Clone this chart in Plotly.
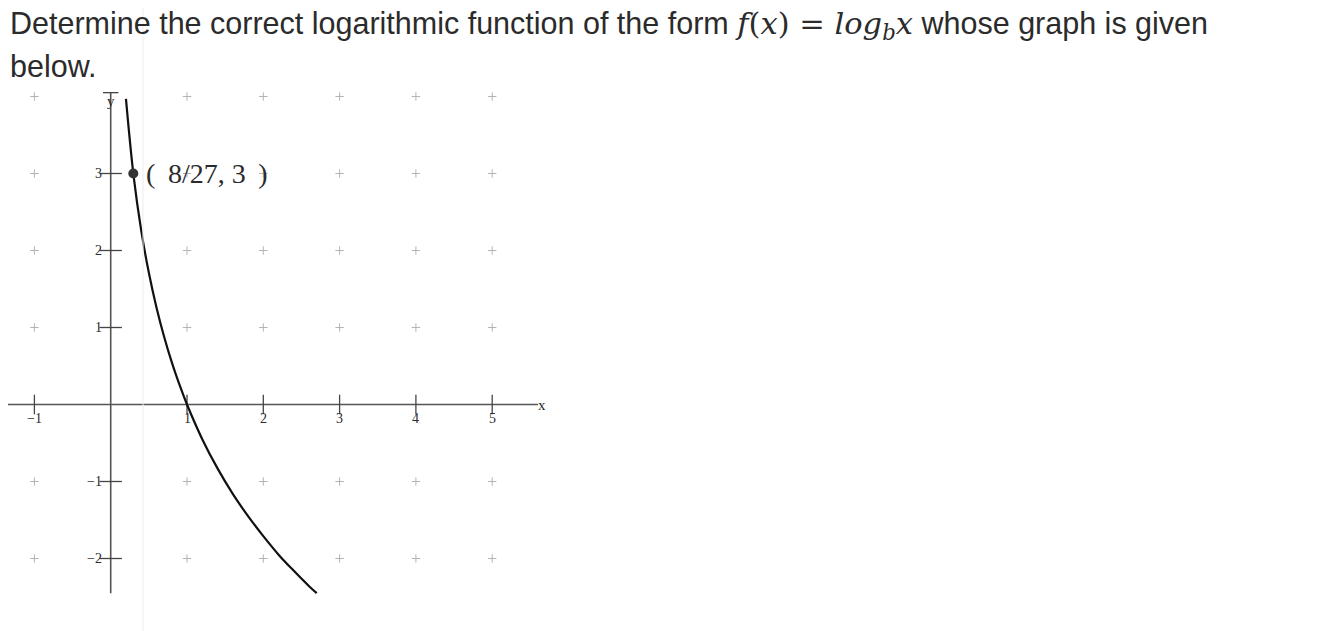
import plotly.graph_objects as go

# values
curve_x = [0.20, 0.30, 0.40, 0.50, 0.60, 0.70, 0.80, 0.90, 1.00, 1.20, 1.40,
           1.60, 1.80, 2.00, 2.20, 2.40, 2.60, 2.70]
curve_y = [3.97, 2.97, 2.26, 1.71, 1.26, 0.88, 0.55, 0.26, 0.00, -0.45, -0.83,
           -1.16, -1.45, -1.71, -1.95, -2.16, -2.36, -2.45]
point_x = [8 / 27]
point_y = [3]
point_label = "(\u2009 8/27, 3 \u2009)"
x_ticks = [-1, 1, 2, 3, 4, 5]
x_tick_text = ["\u22121", "1", "2", "3", "4", "5"]
y_ticks = [3, 2, 1, -1, -2]
y_tick_text = ["3", "2", "1", "\u22121", "\u22122"]
grid_x = [-1, 1, 2, 3, 4, 5]
grid_y = [4, 3, 2, 1, -1, -2]
x_axis_ends = [-1.38, 5.60]
y_axis_ends = [-2.45, 4.05]

W, H = 1335, 631
OFF = 8  # the page body margin pushes the plot 8px right and down
# pixel placement of the origin and unit sizes in the scan
X0, UX = 110.7 - OFF, 76.3
Y0, UY = 404.5 - OFF, 77.0

serif = "Liberation Serif, Times New Roman, serif"
sans = "Liberation Sans, Arial, sans-serif"
ink = "#2b2b2b"

fig = go.Figure()

# dotted lattice
gx = [x for y in grid_y for x in grid_x]
gy = [y for y in grid_y for x in grid_x]
fig.add_trace(go.Scatter(x=gx, y=gy, mode="markers",
                         marker=dict(symbol="cross-thin", size=6,
                                     line=dict(color="#b4b4b4", width=1)),
                         hoverinfo="skip"))

# axes
fig.add_trace(go.Scatter(x=x_axis_ends, y=[0, 0], mode="lines",
                         line=dict(color="#555", width=1.6), hoverinfo="skip"))
fig.add_trace(go.Scatter(x=[0, 0], y=y_axis_ends, mode="lines",
                         line=dict(color="#555", width=1.6), hoverinfo="skip"))

# tick marks
fig.add_trace(go.Scatter(x=x_ticks, y=[0] * len(x_ticks), mode="markers",
                         marker=dict(symbol="line-ns", size=14,
                                     line=dict(color="#444", width=1.3)),
                         hoverinfo="skip"))
fig.add_trace(go.Scatter(x=[0] * len(y_ticks), y=y_ticks, mode="markers",
                         marker=dict(symbol="line-ew", size=16,
                                     line=dict(color="#444", width=1.3)),
                         hoverinfo="skip"))
fig.add_trace(go.Scatter(x=[0], y=[y_axis_ends[1]], mode="markers",
                         marker=dict(symbol="line-ew", size=11,
                                     line=dict(color="#444", width=1.3)),
                         hoverinfo="skip"))

# curve
fig.add_trace(go.Scatter(x=curve_x, y=curve_y, mode="lines",
                         line=dict(color="#111", width=2.2, shape="spline"),
                         hoverinfo="skip"))

# marked point
fig.add_trace(go.Scatter(x=point_x, y=point_y, mode="markers",
                         marker=dict(color="#333", size=10),
                         hoverinfo="skip"))

for xv, t in zip(x_ticks, x_tick_text):
    fig.add_annotation(x=xv, y=0, text=t, showarrow=False, yshift=-14,
                       font=dict(family=serif, size=14, color=ink))
for yv, t in zip(y_ticks, y_tick_text):
    fig.add_annotation(x=0, y=yv, text=t, showarrow=False, xanchor="right",
                       xshift=-7, font=dict(family=serif, size=14, color=ink))

fig.add_annotation(x=0, y=y_axis_ends[1], text="y", showarrow=False,
                   yanchor="top", yshift=2,
                   font=dict(family=serif, size=15, color=ink))
fig.add_annotation(x=x_axis_ends[1], y=0, text="x", showarrow=False,
                   xanchor="left", xshift=-2,
                   font=dict(family=serif, size=15, color=ink))

fig.add_annotation(x=point_x[0], y=point_y[0], text=point_label,
                   showarrow=False, xanchor="left", xshift=11,
                   font=dict(family=serif, size=28, color=ink))

# question text
math = ("<span style='font-family:DejaVu Serif'><i>f</i>(<i>x</i>) = "
        "<i>log<sub>b</sub>x</i></span>")
fig.add_annotation(xref="paper", yref="paper", x=0, y=1 - (25 - OFF) / H,
                   xanchor="left", yanchor="middle", showarrow=False,
                   text="Determine the correct logarithmic function of the form "
                        + math + " whose graph is given",
                   font=dict(family=sans, size=30.5, color=ink))
fig.add_annotation(xref="paper", yref="paper", x=0, y=1 - (66 - OFF) / H,
                   xanchor="left", yanchor="middle", showarrow=False,
                   text="below.", font=dict(family=sans, size=30.5, color=ink))

# faint page edge in the scan
fig.add_shape(type="line", xref="paper", yref="paper",
              x0=(143 - OFF) / W, x1=(143 - OFF) / W, y0=0, y1=1,
              line=dict(color="#ededed", width=1))

fig.update_layout(
    width=W, height=H,
    margin=dict(l=0, r=0, t=0, b=0),
    paper_bgcolor="white", plot_bgcolor="white",
    showlegend=False,
    xaxis=dict(visible=False, range=[-X0 / UX, (W - X0) / UX]),
    yaxis=dict(visible=False, range=[(Y0 - H) / UY, Y0 / UY]),
)

fig.write_html("out.html")
